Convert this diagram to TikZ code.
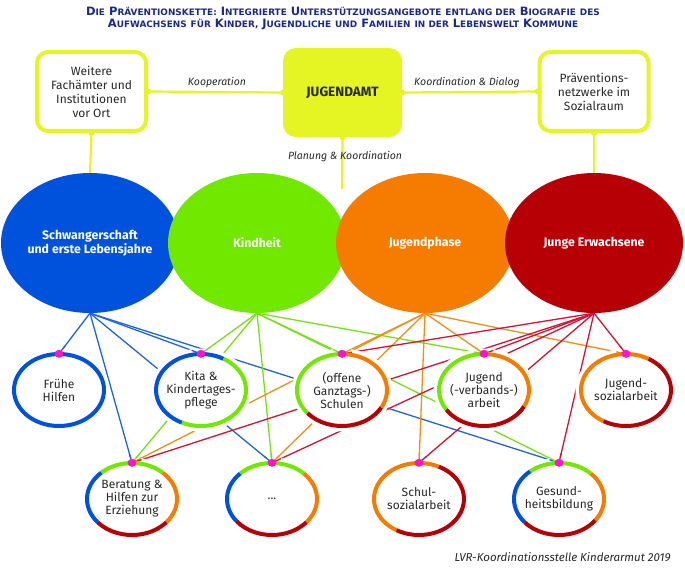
\documentclass[tikz,border=0pt]{standalone}
\usepackage{fontspec}
\setmainfont{Fira Sans}
\newfontfamily\titlefont{DejaVu Sans}
\usetikzlibrary{calc,shapes.geometric}
\pgfdeclarelayer{bg}
\pgfdeclarelayer{mid}
\pgfsetlayers{bg,mid,main}
\definecolor{cblue}{RGB}{0,82,220}
\definecolor{cgreen}{RGB}{112,232,0}
\definecolor{corange}{RGB}{245,124,0}
\definecolor{cred}{RGB}{183,0,5}
\definecolor{cyell}{RGB}{228,245,35}
\definecolor{cmag}{RGB}{255,20,200}
\definecolor{ctitle}{RGB}{25,40,140}
\definecolor{ctext}{RGB}{40,40,40}
\definecolor{lblue}{RGB}{30,100,220}
\definecolor{lgreen}{RGB}{120,225,20}
\definecolor{lorange}{RGB}{245,140,20}
\definecolor{lred}{RGB}{210,20,50}
\newcommand\smc[1]{{\fontsize{8.9}{11}\selectfont\MakeUppercase{#1}}}
\newcommand\scw[2]{#1\smc{#2}}
\newcommand\halo[1]{\begin{pgfonlayer}{mid}\fill[white] (#1.center) ellipse[x radius=45pt,y radius=36pt];\draw[white,line width=11pt] (#1.center) ellipse[x radius=45pt,y radius=36pt];\end{pgfonlayer}}
\newcommand\seg[4]{\draw[line width=4pt,#2] ($(#1.center)+(#3:45pt and 36pt)$) arc[start angle=#3,end angle=#4,x radius=45pt,y radius=36pt];}
\newcommand\conn[3]{\begin{pgfonlayer}{bg}\draw[cn,#1] (#2.south) -- (#3.north);\end{pgfonlayer}\draw[cn,#1] ($(#3.north)!10pt!(#2.south)$) -- (#3.north);}
\newcommand\mdot[1]{\fill[cmag] (#1.north) ellipse[x radius=4.5pt,y radius=4pt];}
\begin{document}
\begin{tikzpicture}[x=1pt,y=-1pt,
  ring/.style={ellipse,minimum width=90pt,minimum height=72pt,inner sep=0pt,align=center,text=ctext,font=\fontsize{12}{13}\selectfont},
  big/.style={ellipse,minimum width=178pt,minimum height=140pt,inner sep=0pt,align=center,text=white,font=\bfseries\fontsize{12.3}{14}\selectfont},
  ybox/.style={draw=cyell,line width=4pt,rounded corners=11pt,minimum width=109pt,minimum height=79pt,align=center,text=ctext,font=\fontsize{12}{14}\selectfont},
  ycon/.style={cyell,line width=2.2pt},
  lab/.style={text=ctext,font=\itshape\fontsize{10.5}{12}\selectfont},
  cn/.style={line width=1.3pt}]
\useasboundingbox (0,0) rectangle (685,572);
% title
\node[font=\titlefont\bfseries\fontsize{11.5}{12}\selectfont,text=ctitle,align=center] (title) at (343,18)
 {\scw{D}{ie} \scw{P}{räventionskette:} \scw{I}{ntegrierte} \scw{U}{nterstützungsangebote} \smc{entlang der} \scw{B}{iografie} \smc{des}\\
  \scw{A}{ufwachsens} \smc{für} \scw{K}{inder,} \scw{J}{ugendliche} \smc{und} \scw{F}{amilien} \smc{in der} \scw{L}{ebenswelt} \scw{K}{ommune}};
% top boxes
\node[ybox] (wf) at (91.5,91.5) {Weitere\\Fachämter und\\Institutionen\\vor Ort};
\node[ybox,fill=cyell,minimum width=115pt,minimum height=85pt,font=\bfseries\fontsize{13.5}{15}\selectfont] (ja) at (342.5,92.5) {JUGENDAMT};
\node[ybox] (pn) at (594,91.5) {Präventions-\\netzwerke im\\Sozialraum};
% big ellipses
\node[big,fill=cblue] (bl) at (90,243) {Schwangerschaft\\und erste Lebensjahre};
\node[big,fill=cgreen] (gr) at (257,243) {Kindheit};
\node[big,fill=corange] (or) at (425,243) {Jugendphase};
\node[big,fill=cred] (rd) at (594,243) {Junge Erwachsene};
% yellow connectors
\coordinate (jaend) at (342,189);
\draw[ycon] (wf.east) -- (ja.west);
\draw[ycon] (ja.east) -- (pn.west);
\draw[ycon] (wf.south) -- (bl.north);
\draw[ycon] (pn.south) -- (rd.north);
\draw[ycon] (ja.south) -- (jaend);
\foreach \p in {wf.east,ja.west,ja.east,pn.west,wf.south,pn.south,ja.south}{\fill[cyell] (\p) circle (3pt);}
\node[lab] (lkoop) at (217,83) {Kooperation};
\node[lab] (lkoord) at (467,83) {Koordination \& Dialog};
\node[lab] (lplan) at (345,157) {Planung \& Koordination};
% rings
\node[ring] (fh) at (59,390) {Frühe\\Hilfen};
\node[ring] (kita) at (201,390) {Kita \&\\Kindertages-\\pflege};
\node[ring] (sch) at (342,390) {(offene\\Ganztags-)\\Schulen};
\node[ring] (jug) at (484,390) {Jugend\\(-verbands-)\\arbeit};
\node[ring] (jsa) at (626,390) {Jugend-\\sozialarbeit};
\node[ring] (ber) at (132,499) {Beratung \&\\Hilfen zur\\Erziehung};
\node[ring] (dts) at (272,499) {...};
\node[ring] (ssa) at (419,499) {Schul-\\sozialarbeit};
\node[ring] (ges) at (559,499) {Gesund-\\heitsbildung};
\foreach \r in {fh,kita,sch,jug,jsa,ber,dts,ssa,ges}{\halo{\r}}
% connectors
\conn{lblue}{bl}{fh}
\conn{lblue}{bl}{kita}
\conn{lblue}{bl}{ber}
\conn{lblue}{bl}{dts}
\conn{lblue}{bl}{ges}
\conn{lgreen}{gr}{kita}
\conn{lgreen}{gr}{ber}
\conn{lgreen}{gr}{dts}
\conn{lgreen}{gr}{sch}
\conn{lgreen}{gr}{jug}
\conn{lgreen}{gr}{ges}
\conn{lorange}{or}{sch}
\conn{lorange}{or}{dts}
\conn{lorange}{or}{ber}
\conn{lorange}{or}{ssa}
\conn{lorange}{or}{jug}
\conn{lorange}{or}{jsa}
\conn{lred}{rd}{jsa}
\conn{lred}{rd}{sch}
\conn{lred}{rd}{jug}
\conn{lred}{rd}{ges}
\conn{lred}{rd}{ssa}
\conn{lred}{rd}{dts}
\conn{lred}{rd}{ber}
% ring segments
\draw[line width=4pt,cblue] (fh.center) ellipse[x radius=45pt,y radius=36pt];
\seg{kita}{cblue}{60}{245}\seg{kita}{cgreen}{245}{420}
\seg{sch}{cgreen}{90}{220}\seg{sch}{cred}{220}{331}\seg{sch}{corange}{331}{450}
\seg{jug}{cgreen}{90}{213}\seg{jug}{cred}{213}{333}\seg{jug}{corange}{333}{450}
\seg{jsa}{corange}{60}{240}\seg{jsa}{cred}{240}{420}
\seg{ber}{cgreen}{47}{133}\seg{ber}{cblue}{133}{220}\seg{ber}{cred}{220}{320}\seg{ber}{corange}{320}{407}
\seg{dts}{cgreen}{45}{135}\seg{dts}{cblue}{135}{218}\seg{dts}{cred}{218}{320}\seg{dts}{corange}{320}{405}
\seg{ssa}{corange}{64}{240}\seg{ssa}{cred}{240}{424}
\seg{ges}{cgreen}{45}{130}\seg{ges}{cblue}{130}{220}\seg{ges}{cred}{220}{324}\seg{ges}{corange}{324}{405}
\foreach \r in {fh,kita,sch,jug,jsa,ber,dts,ssa,ges}{\mdot{\r}}
\node[anchor=east,text=ctext,font=\itshape\fontsize{11.5}{13}\selectfont] (credit) at (674,557) {LVR-Koordinationsstelle Kinderarmut 2019};
\end{tikzpicture}
\end{document}
